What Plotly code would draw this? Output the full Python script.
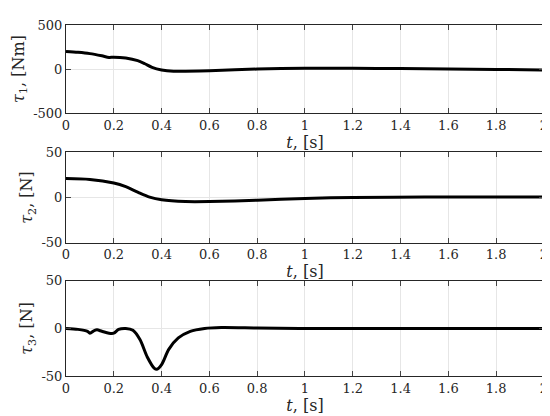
import plotly.graph_objects as go
from plotly.subplots import make_subplots

t1 = [0, 0.05, 0.1, 0.15, 0.18, 0.2, 0.25, 0.3, 0.33, 0.36, 0.4, 0.45, 0.5, 0.6, 0.8, 1.0, 1.2, 1.4, 1.6, 1.8, 2.0]
tau1 = [200, 190, 175, 150, 132, 135, 125, 95, 60, 20, -10, -25, -25, -18, 0, 10, 8, 5, 0, -5, -10]
t2 = [0, 0.1, 0.2, 0.25, 0.3, 0.35, 0.4, 0.5, 0.6, 0.8, 1.0, 1.2, 1.5, 2.0]
tau2 = [21, 20, 16, 12, 6, 0.5, -2.5, -4.5, -4.5, -3, -1, 0, 0.5, 0.5]
t3 = [0, 0.05, 0.09, 0.1, 0.12, 0.13, 0.15, 0.18, 0.2, 0.22, 0.25, 0.28, 0.31, 0.34, 0.37, 0.38, 0.4, 0.43, 0.47, 0.52, 0.58, 0.65, 0.8, 1.0, 2.0]
tau3 = [0, -1, -3, -5, -2, -1.5, -3, -5, -5, -1, 0, -2, -12, -30, -42, -43, -38, -22, -10, -3, 0, 1, 0.5, 0, 0]

xticks = [0, 0.2, 0.4, 0.6, 0.8, 1, 1.2, 1.4, 1.6, 1.8, 2]
xlabels = ["0", "0.2", "0.4", "0.6", "0.8", "1", "1.2", "1.4", "1.6", "1.8", "2"]

fig = make_subplots(rows=3, cols=1)
series = [(t1, tau1, [-500, 500], [-500, 0, 500], "<i>τ</i><sub>1</sub>, [Nm]"),
          (t2, tau2, [-50, 50], [-50, 0, 50], "<i>τ</i><sub>2</sub>, [N]"),
          (t3, tau3, [-50, 50], [-50, 0, 50], "<i>τ</i><sub>3</sub>, [N]")]
domains = [[0.749, 1.0], [0.38, 0.637], [0.0, 0.271]]
for i, (x, y, rng, yt, title) in enumerate(series, start=1):
    fig.add_trace(go.Scatter(x=x, y=y, mode="lines", line=dict(color="black", width=3, shape="spline", smoothing=0.8), showlegend=False), row=i, col=1)
    fig.update_xaxes(range=[0, 2.0001], tickvals=xticks, ticktext=xlabels, ticks="inside", ticklen=5,
                     showline=True, linecolor="#262626", mirror="ticks", showgrid=True, gridcolor="#e6e6e6",
                     zeroline=False, title=dict(text="<i>t</i>, [s]", standoff=0), row=i, col=1)
    fig.update_yaxes(range=rng, tickvals=yt, ticktext=[str(v) for v in yt], ticks="inside", ticklen=5,
                     showline=True, linecolor="#262626", mirror="ticks", showgrid=True, gridcolor="#e6e6e6",
                     zeroline=False, domain=domains[i-1], title=dict(text=title, standoff=4), row=i, col=1)

fig.update_layout(width=550, height=416, margin=dict(l=50, r=10, t=10, b=48),
                  plot_bgcolor="white", paper_bgcolor="white",
                  font=dict(family="DejaVu Serif", size=13, color="#262626"))
fig.write_html("out.html")
